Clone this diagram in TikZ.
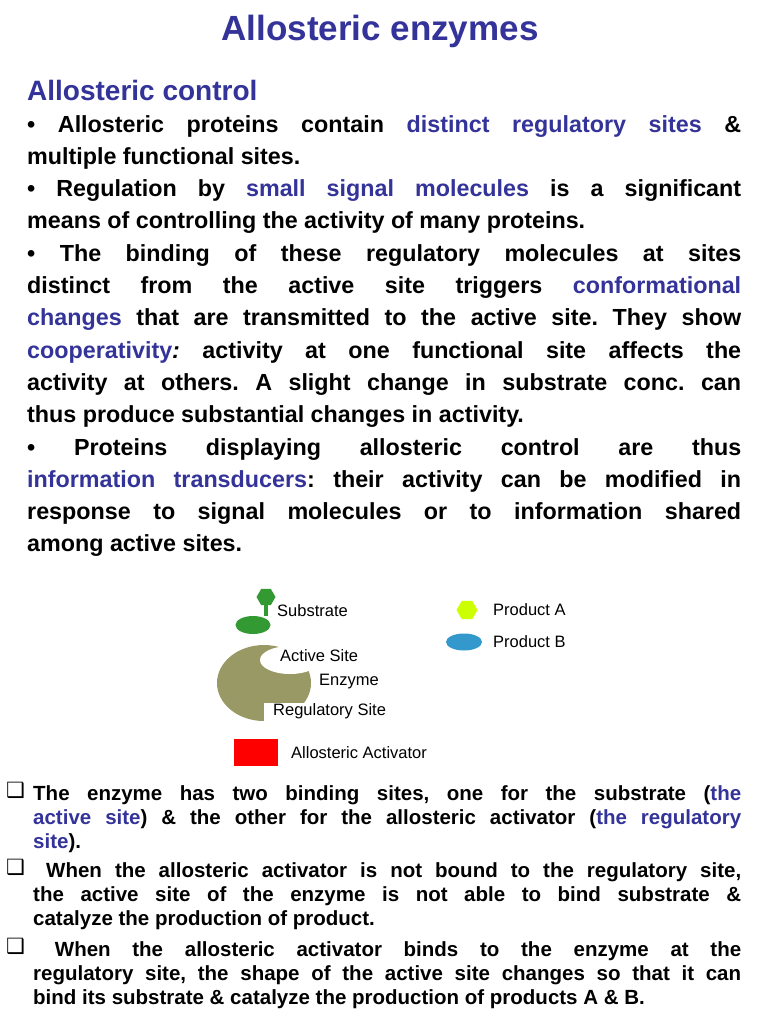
\documentclass[tikz,border=0pt]{standalone}
\usepackage{fontspec}
\setmainfont{Liberation Sans}
\newfontfamily\dvs{DejaVu Sans}
\usetikzlibrary{shapes.geometric}
\definecolor{hb}{HTML}{333399}
\definecolor{sg}{HTML}{339933}
\definecolor{ol}{HTML}{999966}
\definecolor{pa}{HTML}{CCFF00}
\definecolor{pb}{HTML}{3399CC}
\newcommand{\hl}[1]{\textcolor{hb}{#1}}
\tikzset{body/.style={anchor=north west,inner sep=0,text width=714pt,align=justify,font=\frenchspacing\bfseries\fontsize{23.3}{32.3}\selectfont},
small/.style={anchor=north west,inner sep=0,text width=708pt,align=justify,font=\frenchspacing\bfseries\fontsize{20.5}{24.3}\selectfont},
lbl/.style={anchor=west,inner sep=0,font=\fontsize{16.5}{19}\selectfont},
cb/.style={anchor=north west,inner sep=0,font=\dvs\fontsize{21}{24}\selectfont}}
\begin{document}
\begin{tikzpicture}[x=1pt,y=-1pt]
\useasboundingbox[fill=white] (0,0) rectangle (768,1024);
\node[inner sep=0,text=hb,font=\bfseries\fontsize{35}{40}\selectfont] (title) at (380,31) {Allosteric enzymes};
\node[anchor=west,inner sep=0,text=hb,font=\bfseries\fontsize{28}{32}\selectfont] (sub) at (27,90) {Allosteric control};
\node[body] (txt) at (27,115) {%
\textbullet{} Allosteric proteins contain \hl{distinct regulatory sites} \&\linebreak multiple functional sites.\par
\textbullet{} Regulation by \hl{small signal molecules} is a significant\linebreak means of controlling the activity of many proteins.\par
\textbullet{} The binding of these regulatory molecules at sites\linebreak distinct from the active site triggers \hl{conformational}\linebreak \hl{changes} that are transmitted to the active site. They show\linebreak \hl{cooperativity}\textit{:} activity at one functional site affects the\linebreak activity at others. A slight change in substrate conc. can\linebreak thus produce substantial changes in activity.\par
\textbullet{} Proteins displaying allosteric control are thus\linebreak \hl{information transducers}: their activity can be modified in\linebreak response to signal molecules or to information shared\linebreak among active sites.};
% diagram
\draw[sg,line width=4pt] (266,600) -- (266,616);
\node[regular polygon,regular polygon sides=6,fill=sg,minimum size=19pt,inner sep=0] (subhex) at (266,597) {};
\node[ellipse,fill=sg,minimum width=35pt,minimum height=18pt,inner sep=0] (subell) at (253,625) {};
\node[lbl] (subl) at (277,611) {Substrate};
\node[regular polygon,regular polygon sides=6,fill=pa,minimum size=21pt,inner sep=0] (pah) at (467,610) {};
\node[lbl] (pal) at (493,610) {Product A};
\node[ellipse,fill=pb,minimum width=36pt,minimum height=17pt,inner sep=0] (pbe) at (464,642) {};
\node[lbl] (pbl) at (493,642) {Product B};
\fill[ol] (264,683) ellipse (47 and 38);
\fill[white] (264,703) rectangle (320,735);
\fill[white] (290,660) ellipse (30 and 14);
\fill[white] (300,657) rectangle (320,668);
\node[lbl] (asl) at (280,656) {Active Site};
\node[lbl] (enl) at (319,682) {Enzyme};
\node[lbl] (rsl) at (273,711) {Regulatory Site};
\node[fill=red,minimum width=44pt,minimum height=27pt,inner sep=0] (act) at (256,752) {};
\node[lbl] (actl) at (291,753) {Allosteric Activator};
% bottom bullets
\node[cb] (c1) at (6,782) {❑};
\node[small] (b1) at (33,785) {The enzyme has two binding sites, one for the substrate (\hl{the}\linebreak \hl{active site}) \& the other for the allosteric activator (\hl{the regulatory}\linebreak \hl{site}).};
\node[cb] (c2) at (6,859) {❑};
\node[small] (b2) at (33,862) {\ When the allosteric activator is not bound to the regulatory site,\linebreak the active site of the enzyme is not able to bind substrate \&\linebreak catalyze the production of product.};
\node[cb] (c3) at (6,938) {❑};
\node[small] (b3) at (33,941) {\ When the allosteric activator binds to the enzyme at the\linebreak regulatory site, the shape of the active site changes so that it can\linebreak bind its substrate \& catalyze the production of products A \& B.};
\end{tikzpicture}
\end{document}
